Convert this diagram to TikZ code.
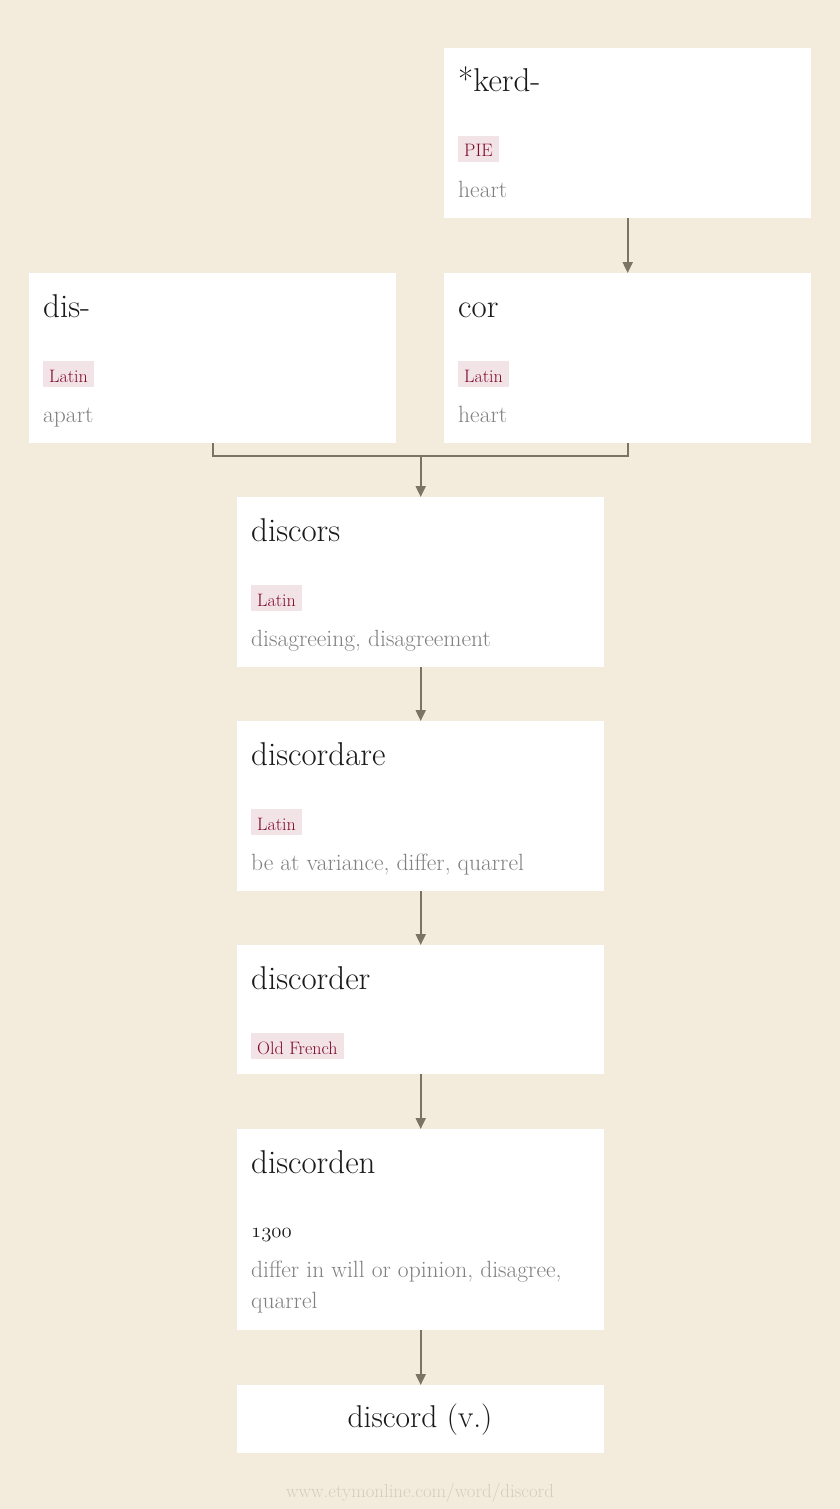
\documentclass[tikz,border=0pt]{standalone}
\usetikzlibrary{arrows.meta}
\definecolor{paper}{HTML}{F3ECDC}
\definecolor{ink}{HTML}{1A1A1A}
\definecolor{glossgray}{HTML}{808080}
\definecolor{tagfill}{HTML}{F2E3E6}
\definecolor{tagred}{HTML}{7E0A26}
\definecolor{linkgray}{HTML}{7B7363}
\definecolor{footgray}{HTML}{D5CCBC}
\tikzset{
  wordbox/.style={fill=white, inner sep=0pt, anchor=north west, minimum width=367pt},
  title/.style={anchor=base west, inner sep=0pt, text=ink, font=\fontsize{33}{38}\selectfont},
  lang/.style={anchor=base west, fill=tagfill, text=tagred, font=\fontsize{18}{21}\selectfont, inner xsep=6pt, inner ysep=5pt, text height=16pt, text depth=0pt},
  gloss/.style={anchor=base west, inner sep=0pt, text=glossgray, font=\fontsize{23.5}{31}\selectfont},
  link/.style={draw=linkgray, line width=2pt, -{Triangle[length=11pt,width=10pt]}},
}

\begin{document}
\begin{tikzpicture}[x=1pt,y=-1pt]
  \fill[paper] (0,0) rectangle (840,1509);
  \useasboundingbox (0,0) rectangle (840,1509);
  \foreach \n/\x/\y/\w/\l/\g in {kerd/444/48/*kerd-/PIE/heart, dis/29/273/dis-/Latin/apart, cor/444/273/cor/Latin/heart, discors/237/497/discors/Latin/{disagreeing, disagreement}, discordare/237/721/discordare/Latin/{be at variance, differ, quarrel}} {
    \node[wordbox, minimum height=170pt] (\n) at (\x,\y) {};
    \node[title] (\n-title) at ([shift={(14,44)}]\n.north west) {\w};
    \node[lang] (\n-lang) at ([shift={(14,109)}]\n.north west) {\l};
    \node[gloss] (\n-gloss) at ([shift={(14,149)}]\n.north west) {\g};
  }
  \node[wordbox, minimum height=129pt] (discorder) at (237,945) {};
  \node[title] (discorder-title) at ([shift={(14,44)}]discorder.north west) {discorder};
  \node[lang] (discorder-lang) at ([shift={(14,109)}]discorder.north west) {Old French};
  \node[wordbox, minimum height=201pt] (discorden) at (237,1129) {};
  \node[title] (discorden-title) at ([shift={(14,44)}]discorden.north west) {discorden};
  \node[anchor=base west, inner sep=0pt, text=ink, font=\fontsize{21}{24}\selectfont] (discorden-date) at ([shift={(14,108)}]discorden.north west) {$\mathnormal{1300}$};
  \node[gloss] (discorden-gloss) at ([shift={(14,148)}]discorden.north west) {\vtop{\hbox{differ in will or opinion, disagree,}\hbox{quarrel}}};
  \node[wordbox, minimum height=68pt] (discord) at (237,1385) {};
  \node[anchor=base, inner sep=0pt, text=ink, font=\fontsize{31.5}{36}\selectfont] (discord-title) at (420,1427) {discord (v.)};
  \node[anchor=base, inner sep=0pt, text=footgray, font=\fontsize{18.8}{22}\selectfont] (source) at (420,1497) {www.etymonline.com/word/discord};

  \draw[link] (kerd.south) -- (cor.north);
  \coordinate (merge) at ([yshift=41pt]discors.north);
  \draw[linkgray, line width=2pt] (dis.south) |- (merge) -| (cor.south);
  \draw[link] (merge) -- (discors.north);
  \foreach \a/\b in {discors/discordare, discordare/discorder, discorder/discorden, discorden/discord}
    \draw[link] (\a.south) -- (\b.north);
\end{tikzpicture}
\end{document}
